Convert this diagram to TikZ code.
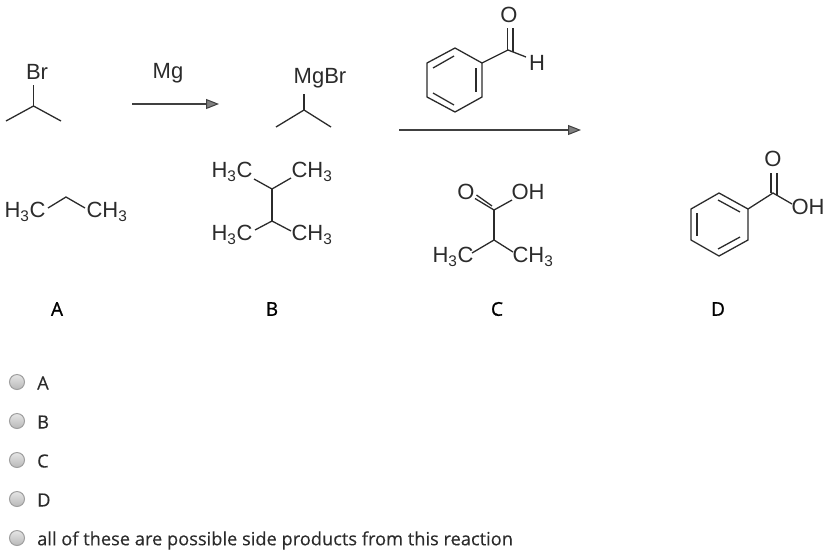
\documentclass[tikz,border=0pt]{standalone}
\usepackage{fontspec}
\setmainfont{Liberation Sans}
\newfontfamily\optfont[FakeBold=0.25]{Open Sans}
\newfontfamily\letterfont[FakeBold=1]{Open Sans}
\usetikzlibrary{arrows.meta}
\definecolor{inkdark}{HTML}{2B2B2B}
\newcommand{\HHHC}{H\textsubscript{3}C}
\newcommand{\CHHH}{CH\textsubscript{3}}
\tikzset{
  bond/.style={draw=inkdark,line width=1.3pt},
  atom/.style={text=inkdark,inner sep=0pt,font=\fontsize{22}{26}\selectfont},
  rxn/.style={draw=inkdark!90,line width=1.4pt,-{Triangle[length=13pt,width=10pt,fill=gray,line width=1pt]}},
  letter/.style={text=black,inner sep=0pt,font=\letterfont\fontsize{19}{22}\selectfont},
  radio/.style={circle,draw=gray!75,line width=1pt,top color=gray!20,bottom color=gray!55,minimum size=15pt,inner sep=0pt},
  opt/.style={anchor=west,text=inkdark,inner sep=0pt,font=\optfont\fontsize{18.25}{22}\selectfont},
}
\begin{document}
\begin{tikzpicture}[x=1pt,y=-1pt]
  \useasboundingbox (0,0) rectangle (829,555);

  % Isopropyl bromide
  \node[atom] (brA) at (37,72) {Br};
  \coordinate (brAend) at (33.5,85);
  \coordinate (brAc) at (33.5,106);
  \coordinate (brAl) at (6,121);
  \coordinate (brAr) at (61,121);
  \draw[bond] (brAend) -- (brAc);
  \draw[bond] (brAl) -- (brAc) -- (brAr);

  % First arrow
  \node[atom] (mg) at (168,73) {Mg};
  \coordinate (arrAs) at (132,104);
  \coordinate (arrAe) at (219,104);
  \draw[rxn] (arrAs) -- (arrAe);

  % Grignard reagent
  \node[atom] (mgbr) at (320,78) {MgBr};
  \coordinate (grEnd) at (304,94);
  \coordinate (grC) at (304,110);
  \coordinate (grL) at (276,127);
  \coordinate (grR) at (331,127);
  \draw[bond] (grEnd) -- (grC);
  \draw[bond] (grL) -- (grC) -- (grR);

  % Benzaldehyde
  \coordinate (alA) at (455,48);
  \coordinate (alB) at (482,63);
  \coordinate (alC) at (482,97);
  \coordinate (alD) at (455,112);
  \coordinate (alE) at (427,97);
  \coordinate (alF) at (427,63);
  \draw[bond] (alA) -- (alB) -- (alC) -- (alD) -- (alE) -- (alF) -- cycle;
  \draw[bond] (433,68) -- (454,56);
  \draw[bond] (476,68) -- (476,92);
  \draw[bond] (433,93) -- (454,105);
  \coordinate (alCO) at (508,50);
  \coordinate (alHend) at (526,57);
  \draw[bond] (alB) -- (alCO) -- (alHend);
  \draw[bond] (507.5,50) -- (507.5,28);
  \draw[bond] (513,52) -- (513,28);
  \node[atom] (alO) at (509,15) {O};
  \node[atom] (alH) at (537,63) {H};

  % Second arrow
  \coordinate (arrBs) at (399,130);
  \coordinate (arrBe) at (581,130);
  \draw[rxn] (arrBs) -- (arrBe);

  % A: propane
  \node[atom] (propL) at (25,212) {\HHHC};
  \node[atom] (propR) at (107,212) {\CHHH};
  \coordinate (propLe) at (48,208);
  \coordinate (propM) at (66,197);
  \coordinate (propRe) at (85,208);
  \draw[bond] (propLe) -- (propM) -- (propRe);

  % B: dimethylbutane
  \node[atom] (bTL) at (232,172) {\HHHC};
  \node[atom] (bTR) at (312,172) {\CHHH};
  \node[atom] (bBL) at (232,235) {\HHHC};
  \node[atom] (bBR) at (312,235) {\CHHH};
  \coordinate (bUp) at (272,189);
  \coordinate (bLo) at (272,221);
  \coordinate (bTLe) at (254,179);
  \coordinate (bTRe) at (291,178);
  \coordinate (bBLe) at (255,230);
  \coordinate (bBRe) at (291,231);
  \draw[bond] (bUp) -- (bLo);
  \draw[bond] (bTLe) -- (bUp) -- (bTRe);
  \draw[bond] (bBLe) -- (bLo) -- (bBRe);

  % C: isobutyric acid
  \node[atom] (cO) at (466,192) {O};
  \node[atom] (cOH) at (528,192) {OH};
  \node[atom] (cL) at (453,257) {\HHHC};
  \node[atom] (cR) at (533,257) {\CHHH};
  \coordinate (cC) at (494,210);
  \coordinate (cM) at (494,240);
  \draw[bond] (cC) -- (512,200);
  \draw[bond] (cC) -- (475,198.5);
  \draw[bond] (492,206) -- (476.5,195);
  \draw[bond] (cC) -- (cM);
  \draw[bond] (472,253) -- (cM) -- (513,252);

  % D: benzoic acid
  \coordinate (dA) at (719,193);
  \coordinate (dB) at (748,209);
  \coordinate (dC) at (748,240);
  \coordinate (dD) at (719,256);
  \coordinate (dE) at (691,240);
  \coordinate (dF) at (691,209);
  \draw[bond] (dA) -- (dB) -- (dC) -- (dD) -- (dE) -- (dF) -- cycle;
  \draw[bond] (697,213) -- (697,236);
  \draw[bond] (718,200) -- (740,212);
  \draw[bond] (718,249) -- (740,237);
  \coordinate (dCO) at (773,193);
  \coordinate (dOHe) at (792,204);
  \draw[bond] (dB) -- (dCO) -- (dOHe);
  \draw[bond] (771,193) -- (771,173);
  \draw[bond] (777,195) -- (777,173);
  \node[atom] (dO) at (773,159) {O};
  \node[atom] (dOH) at (808,207) {OH};

  % Letters under the structures
  \node[letter] (lblA) at (57,309) {A};
  \node[letter] (lblB) at (272,309) {B};
  \node[letter] (lblC) at (497,309) {C};
  \node[letter] (lblD) at (718,309) {D};

  % Answer choices
  \node[radio] (radA) at (17,382) {};
  \node[radio] (radB) at (17,421) {};
  \node[radio] (radC) at (17,460) {};
  \node[radio] (radD) at (17,499) {};
  \node[radio] (radE) at (17,538) {};
  \node[opt] (optA) at (37,383) {A};
  \node[opt] (optB) at (37,422) {B};
  \node[opt] (optC) at (37,461) {C};
  \node[opt] (optD) at (37,500) {D};
  \node[opt] (optE) at (37,540.5) {all of these are possible side products from this reaction};
\end{tikzpicture}
\end{document}
